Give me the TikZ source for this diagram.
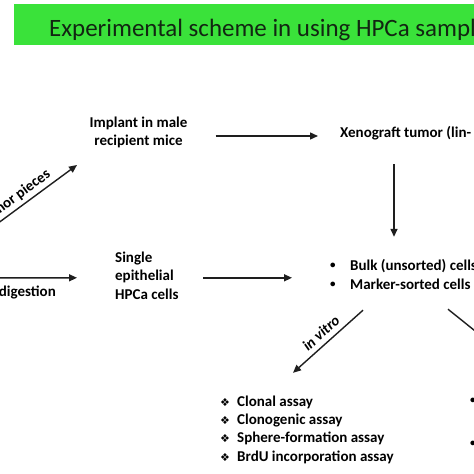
\documentclass[tikz,border=0pt]{standalone}
\usepackage{fontspec}
\setmainfont{Carlito}
\newfontfamily\djvfont{DejaVu Sans}
\usetikzlibrary{arrows.meta}
\definecolor{bannergreen}{RGB}{58,226,58}
\definecolor{titlecol}{RGB}{18,38,18}
\definecolor{arrcol}{RGB}{30,30,30}
\newcommand\assaymark{\makebox[17pt][l]{\djvfont\fontsize{11}{11}\selectfont ❖}}
\newcommand\smallbul{\raisebox{1.2pt}{\fontsize{11}{11}\selectfont\textbullet}}
\newcommand\bulmark{\makebox[21pt][l]{\hspace{1pt}\smallbul}}
\begin{document}
\begin{tikzpicture}[x=1pt,y=-1pt,
  lbl/.style={inner sep=0pt, font=\fontsize{15}{18.5}\selectfont\bfseries},
  arr/.style={draw=arrcol, line width=1.4pt, -{Triangle[length=8pt,width=7pt]}}]
\useasboundingbox (0,0) rectangle (474,474);
\clip (0,0) rectangle (474,474);
\fill[white] (0,0) rectangle (474,474);
% banner
\node[fill=bannergreen, minimum width=500pt, minimum height=41pt, anchor=north west, inner sep=0pt] (banner) at (14,4) {};
\node[anchor=base west, inner sep=0pt, text=titlecol, font=\fontsize{24.95}{29}\selectfont] (title) at (49,36) {Experimental scheme in using HPCa samples};
% text nodes
\node[lbl, anchor=base] (implant) at (138.5,127) {\begin{tabular}[t]{@{}c@{}}Implant in male\\recipient mice\end{tabular}};
\node[lbl, anchor=base west] (xeno) at (340,137.5) {Xenograft tumor (lin-};
\node[lbl, anchor=base west] (single) at (115,262) {\begin{tabular}[t]{@{}l@{}}Single\\epithelial\\HPCa cells\end{tabular}};
\node[lbl, anchor=base west, font=\fontsize{15}{19}\selectfont\bfseries] (cells) at (329,270) {\begin{tabular}[t]{@{}l@{}}\bulmark Bulk (unsorted) cells\\\bulmark Marker-sorted cells\end{tabular}};
\node[lbl, anchor=base west, font=\fontsize{15}{18.4}\selectfont\bfseries] (assays) at (220,406) {\begin{tabular}[t]{@{}l@{}}\assaymark Clonal assay\\\assaymark Clonogenic assay\\\assaymark Sphere-formation assay\\\assaymark BrdU incorporation assay\end{tabular}};
\node[lbl, anchor=base west] (vivo1) at (470,405) {\smallbul};
\node[lbl, anchor=base west] (vivo2) at (470,448) {\smallbul};
% labels
\node[lbl, rotate=36.4] (tplabel) at (16,197) {tumor pieces};
\node[lbl, anchor=base east] (dglabel) at (56,296) {Enzymatic digestion};
\node[lbl, rotate=42, font=\fontsize{15}{18.5}\selectfont\bfseries\itshape] (invitro) at (321,333) {in vitro};
% coordinates
\coordinate (tissue1) at (-40,251.2);
\coordinate (tpEnd) at (77,165);
\coordinate (tissue2) at (-40,277.8);
\coordinate (imE) at ([yshift=-3.45pt]implant.east);
\coordinate (xv) at ([xshift=54pt]xeno.south west);
\coordinate (sE) at ([yshift=-1pt]single.east);
\coordinate (vivoEnd) at (520,367);
% connectors
\draw[arr] (tissue1) -- (tpEnd);
\draw[arr, shorten >=38pt] (tissue2) -- ([yshift=-1pt]single.west);
\draw[arr, shorten <=28pt, shorten >=22pt] (imE) -- (imE -| xeno.west);
\draw[arr, shorten <=24pt, shorten >=19.7pt] (xv) -- (xv |- cells.north);
\draw[arr, shorten <=24.6pt, shorten >=37pt] (sE) -- (sE -| cells.west);
\draw[arr] ([shift={(34pt,-15.3pt)}]cells.south west) -- ([shift={(73pt,20.1pt)}]assays.north west);
\draw[arr] ([shift={(119pt,-14.3pt)}]cells.south west) -- (vivoEnd);
\end{tikzpicture}
\end{document}
